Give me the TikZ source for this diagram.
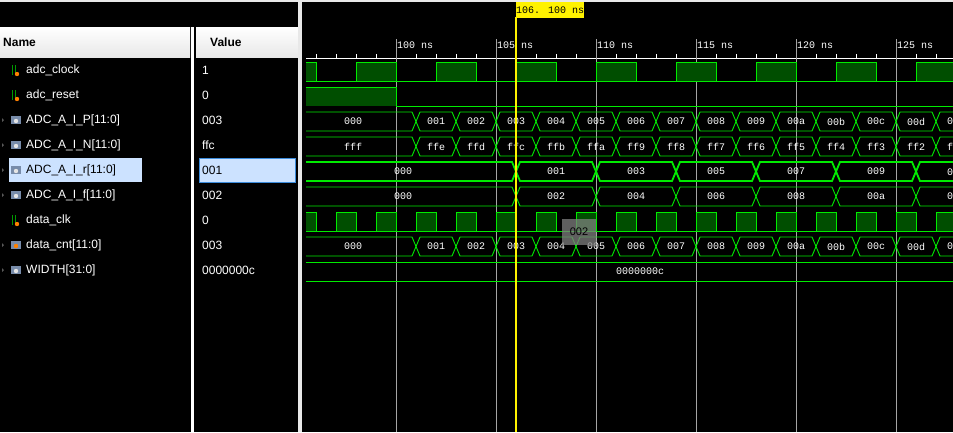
\documentclass[tikz,border=0pt]{standalone}
\usepackage{fontspec}
\setmainfont{Liberation Sans}
\newfontfamily\wmono{Liberation Mono}
\definecolor{wg}{RGB}{0,235,0}
\definecolor{wf}{RGB}{0,78,0}
\definecolor{gridc}{RGB}{165,165,165}
\definecolor{selb}{RGB}{204,226,255}
\definecolor{selbd}{RGB}{60,140,220}
\definecolor{iconb}{RGB}{120,140,170}
\definecolor{hdr}{RGB}{232,232,232}
\tikzset{
  wline/.style={draw=wg,line width=0.9pt},
  nametxt/.style={anchor=west,text=white,font=\fontsize{12}{12}\selectfont,inner sep=0},
  valtxt/.style={anchor=west,text=white,font=\fontsize{12}{12}\selectfont,inner sep=0},
  wtxt/.style={text=white,font=\wmono\fontsize{10}{10}\selectfont,inner sep=0},
  ticktxt/.style={anchor=west,text=white,font=\wmono\fontsize{10}{10}\selectfont,inner sep=1pt},
}
\newcommand\wbusseg[5]{% a b yc label style
  \draw[wline,#5] (#1,#3) -- ({#1+4},{#3-9.5}) -- ({#2-4},{#3-9.5}) -- (#2,#3) -- ({#2-4},{#3+9.5}) -- ({#1+4},{#3+9.5}) -- cycle;
  \node[wtxt] at ({(#1+#2)/2},#3) {#4};
}
\newcommand\wpulse[3]{% a b yc
  \fill[wf] (#1,{#3-9.5}) rectangle (#2,{#3+9.5});
  \draw[wline] (#1,{#3+9.5}) -- (#1,{#3-9.5}) -- (#2,{#3-9.5}) -- (#2,{#3+9.5});
}
\begin{document}
\begin{tikzpicture}[x=1pt,y=-1pt]
\useasboundingbox (0,0) rectangle (953,432);
\fill[black] (0,0) rectangle (953,432);
\fill[hdr] (0,0) rectangle (953,2);
% left headers
\shade[top color=white,bottom color=hdr] (0,27) rectangle (190,57);
\shade[top color=white,bottom color=hdr] (196,27) rectangle (298,57);
\node[anchor=west,font=\bfseries\fontsize{12}{12}\selectfont,inner sep=0] (hname) at (3,42) {Name};
\node[anchor=west,font=\bfseries\fontsize{12}{12}\selectfont,inner sep=0] (hval) at (210,42) {Value};
\fill[white] (191,27) rectangle (194,432);
\fill[hdr] (298,0) rectangle (302,432);
% selection
\fill[selb] (9,158) rectangle (142,182);
\filldraw[fill=selb,draw=selbd] (199.5,158.5) rectangle (295,182);
% names
\foreach \n/\v [count=\i from 0] in {adc\_clock/1,adc\_reset/0,ADC\_A\_I\_P[11:0]/003,ADC\_A\_I\_N[11:0]/ffc,ADC\_A\_I\_r[11:0]/001,ADC\_A\_I\_f[11:0]/002,data\_clk/0,data\_cnt[11:0]/003,WIDTH[31:0]/0000000c}{
  \pgfmathsetmacro\yy{70+25*\i}
  \ifnum\i=4
    \node[nametxt,text=black] (n\i) at (26,\yy) {\n};
    \node[valtxt,text=black] (v\i) at (202,\yy) {\v};
  \else
    \node[nametxt] (n\i) at (26,\yy) {\n};
    \node[valtxt] (v\i) at (202,\yy) {\v};
  \fi
}
% icons
\foreach \i in {0,1,6}{
  \pgfmathsetmacro\yy{70+25*\i}
  \draw[green!60!black,line width=1pt] (12,\yy-5) -- (12,\yy+5) (15,\yy-5) -- (15,\yy+3);
  \fill[orange] (17,\yy+4) circle (2.2);
}
\foreach \i in {2,3,4,5,7,8}{
  \pgfmathsetmacro\yy{70+25*\i}
  \fill[gray!70!black] (2,\yy-2) -- (4,\yy) -- (2,\yy+2) -- cycle;
  \fill[iconb] (11,\yy-4) rectangle (21,\yy+4);
  \ifnum\i=7 \fill[orange] (16,\yy+1) circle (2.2); \else \fill[white!80!gray] (16,\yy+1) circle (2.2); \fi
}
% time axis
\draw[white] (306,58) -- (953,58);
\foreach \k in {0,...,32}{
  \draw[white] ({316+20*\k},54) -- ({316+20*\k},58);
}
\foreach \t [count=\j from 0] in {100,105,110,115,120,125}{
  \pgfmathsetmacro\xx{396+100*\j}
  \draw[gridc] (\xx,39) -- (\xx,432);
  \node[ticktxt] (t\j) at (\xx,45) {\t{} ns};
}
\begin{scope}
\clip (306,58) rectangle (953,432);
% adc_clock
\draw[wline] (300,81) -- (953,81);
\wpulse{296}{316}{71.5}
\foreach \k in {0,...,7}{ \pgfmathsetmacro\a{356+80*\k}\pgfmathsetmacro\b{\a+40}\wpulse{\a}{\b}{71.5} }
% adc_reset
\wpulse{296}{396}{96.5}
\draw[wline] (396,106) -- (953,106);
% P, N, cnt
\wbusseg{290}{416}{121.5}{000}{}
\wbusseg{290}{416}{146.5}{fff}{}
\wbusseg{290}{416}{246.5}{000}{}
\foreach \p/\q [count=\k from 0] in {001/ffe,002/ffd,003/ffc,004/ffb,005/ffa,006/ff9,007/ff8,008/ff7,009/ff6,00a/ff5,00b/ff4,00c/ff3,00d/ff2,00e/ff1}{
  \pgfmathsetmacro\a{416+40*\k}\pgfmathsetmacro\b{\a+40}
  \wbusseg{\a}{\b}{121.5}{\p}{}
  \wbusseg{\a}{\b}{146.5}{\q}{}
  \wbusseg{\a}{\b}{246.5}{\p}{}
}
% r, f
\wbusseg{290}{516}{171.5}{000}{line width=1.8pt}
\wbusseg{290}{516}{196.5}{000}{}
\foreach \p/\q [count=\k from 0] in {001/002,003/004,005/006,007/008,009/00a,00b/00c}{
  \pgfmathsetmacro\a{516+80*\k}\pgfmathsetmacro\b{\a+80}
  \wbusseg{\a}{\b}{171.5}{\p}{line width=1.8pt}
  \wbusseg{\a}{\b}{196.5}{\q}{}
}
% data_clk
\draw[wline] (300,231) -- (953,231);
\foreach \k in {0,...,16}{ \pgfmathsetmacro\a{296+40*\k}\pgfmathsetmacro\b{\a+20}\wpulse{\a}{\b}{221.5} }
% WIDTH
\draw[wline] (300,262) -- (953,262) (300,281) -- (953,281);
\node[wtxt] (wv) at (640,271.5) {0000000c};
\end{scope}
% tooltip
\fill[gray,opacity=0.75] (562,219) rectangle (596,245);
\node[font=\fontsize{11}{11}\selectfont,inner sep=0] (tip) at (579,232) {002};
% cursor
\draw[yellow,line width=1.3pt] (516,17) -- (516,432);
\node[fill=yellow,anchor=north west,minimum width=64pt,minimum height=16pt,inner sep=0,font=\wmono\fontsize{10}{10}\selectfont] (cur) at (516,2) {106. 100 ns};
\end{tikzpicture}
\end{document}
